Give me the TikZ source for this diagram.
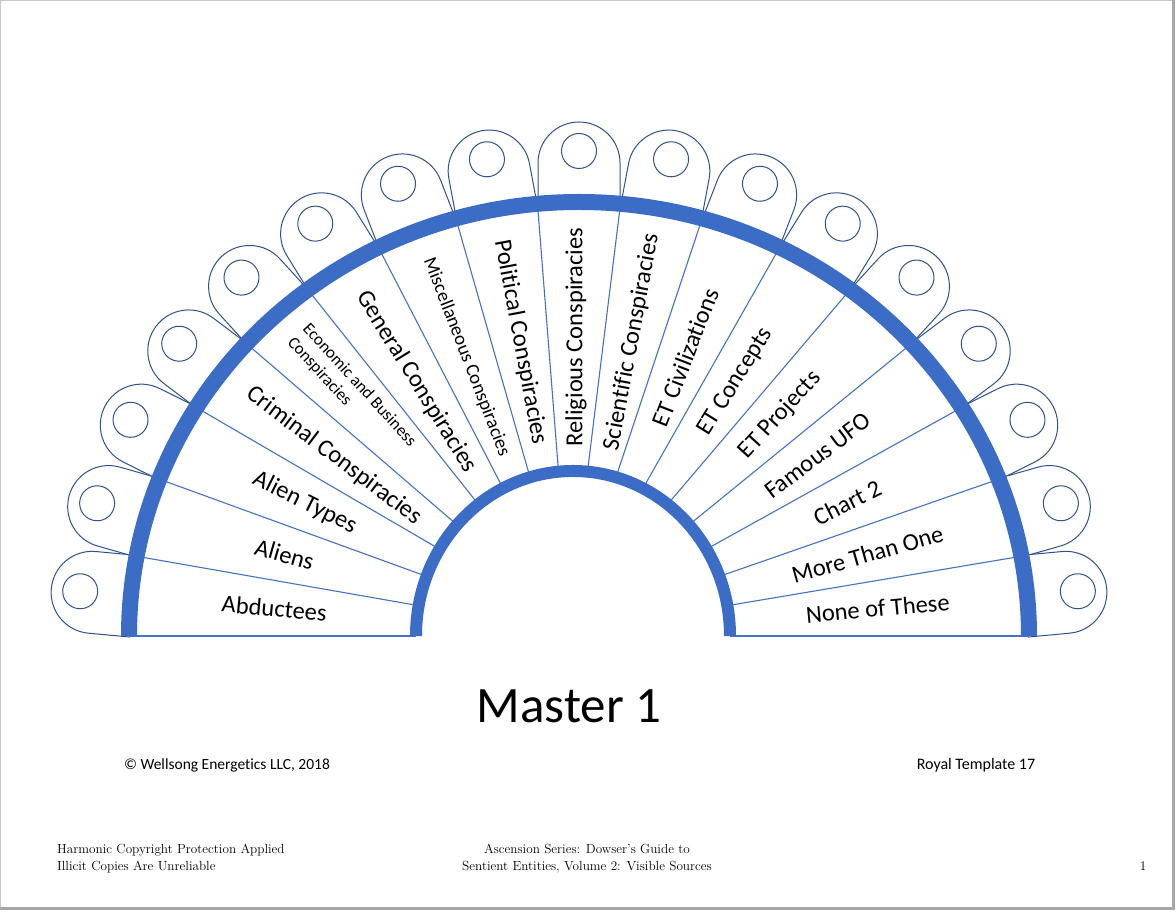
\documentclass[tikz,border=0pt]{standalone}
\usepackage{fontspec}
\usetikzlibrary{calc}
\newfontfamily\calfont[Ligatures=NoCommon]{Carlito}
\definecolor{arcblue}{HTML}{3B6CC6}
\definecolor{lineblue}{HTML}{4472C4}
\definecolor{tabblue}{HTML}{2F528F}
\tikzset{
  tabshape/.style={draw=tabblue, line width=1pt, fill=white},
  divider/.style={draw=lineblue, line width=1.1pt},
  bigarc/.style={draw=arcblue, line cap=butt},
  lab/.style={font=\calfont\fontsize{24.5}{28}\selectfont, inner sep=0pt},
  foot/.style={font=\calfont\fontsize{15.5}{18}\selectfont, inner sep=0pt},
  serif/.style={font=\fontsize{13.2}{16.5}\selectfont, inner sep=0pt, align=left},
}
\begin{document}
\begin{tikzpicture}[x=1pt,y=1pt]
\useasboundingbox (0,0) rectangle (1176,912);
\fill[white] (0,0) rectangle (1176,912);
\draw[gray!45, line width=1pt] (0.5,3) -- (0.5,911.5) -- (1173,911.5);
\draw[gray!70, line width=3pt] (1173,912) -- (1173,3) -- (0,3);
\coordinate (Ci) at (573,276);
\coordinate (Co) at (579,276);
\coordinate (Cl) at (576,276);
% tabs
\foreach \k in {0,...,16}{
  \pgfmathsetmacro\t{180-(\k+0.5)*180/17}
  \begin{scope}[shift={($(Co)+(\t:450 and 434)$)}, rotate=\t-90]
    \draw[tabshape] (-41,-3) -- (-41,39) arc[start angle=180,end angle=0,radius=41] -- (41,-3);
    \draw[tabshape] (0,51) circle[radius=17.5];
  \end{scope}
}
% dividers
\foreach \j in {0,...,17}{
  \pgfmathsetmacro\a{\j*180/17}
  \draw[divider] ($(Ci)+(\a:157 and 165)$) -- ($(Co)+(\a:450 and 434)$);
}
% arcs
\draw[bigarc, line width=12pt] ($(Ci)+(157,0)$) arc[start angle=0,end angle=180,x radius=157,y radius=165];
\draw[bigarc, line width=16pt] ($(Co)+(450,0)$) arc[start angle=0,end angle=180,x radius=450,y radius=434];
% labels
\foreach \k/\txt/\fs in {0/Abductees/24.5,1/Aliens/24.5,2/Alien Types/24.5,3/Criminal Conspiracies/24.5,
   5/General Conspiracies/24.5,6/Miscellaneous Conspiracies/19,7/Political Conspiracies/24.5,
   8/Religious Conspiracies/24.5,9/Scientific Conspiracies/24.5,10/ET Civilizations/24.5,
   11/ET Concepts/24.5,12/ET Projects/24.5,13/Famous UFO/24.5,14/Chart 2/24.5,
   15/More Than One/24.5,16/None of These/24.5}{
  \pgfmathsetmacro\t{180-(\k+0.5)*180/17}
  \pgfmathsetmacro\rot{\t>90.5 ? \t-180 : \t}
  \node[lab, font=\calfont\fontsize{\fs}{28}\selectfont, rotate=\rot] (l\k) at ($(Cl)+(\t:303 and 299)$) {\txt};
}
\pgfmathsetmacro\te{180-4.5*180/17}
\node[lab, font=\calfont\fontsize{17}{20.5}\selectfont, align=left, rotate=\te-180] (l4) at ($(Cl)+(\te:333 and 330)$)
   {Economic and Business\\Conspiracies};
\node[font=\calfont\fontsize{51}{60}\selectfont, inner sep=0pt] (title) at (569,206) {Master 1};
\node[foot] (copy) at (227,147) {© Wellsong Energetics LLC, 2018};
\node[foot, font=\calfont\fontsize{16}{18}\selectfont] (royal) at (976,147) {Royal Template 17};
\node[serif, anchor=north west] (harm) at (57,68) {Harmonic Copyright Protection Applied\\Illicit Copies Are Unreliable};
\node[serif, align=center, anchor=north] (asc) at (587,68) {Ascension Series: Dowser's Guide to\\Sentient Entities, Volume 2: Visible Sources};
\node[serif, anchor=base] (pg) at (1143,41) {1};
\end{tikzpicture}
\end{document}
